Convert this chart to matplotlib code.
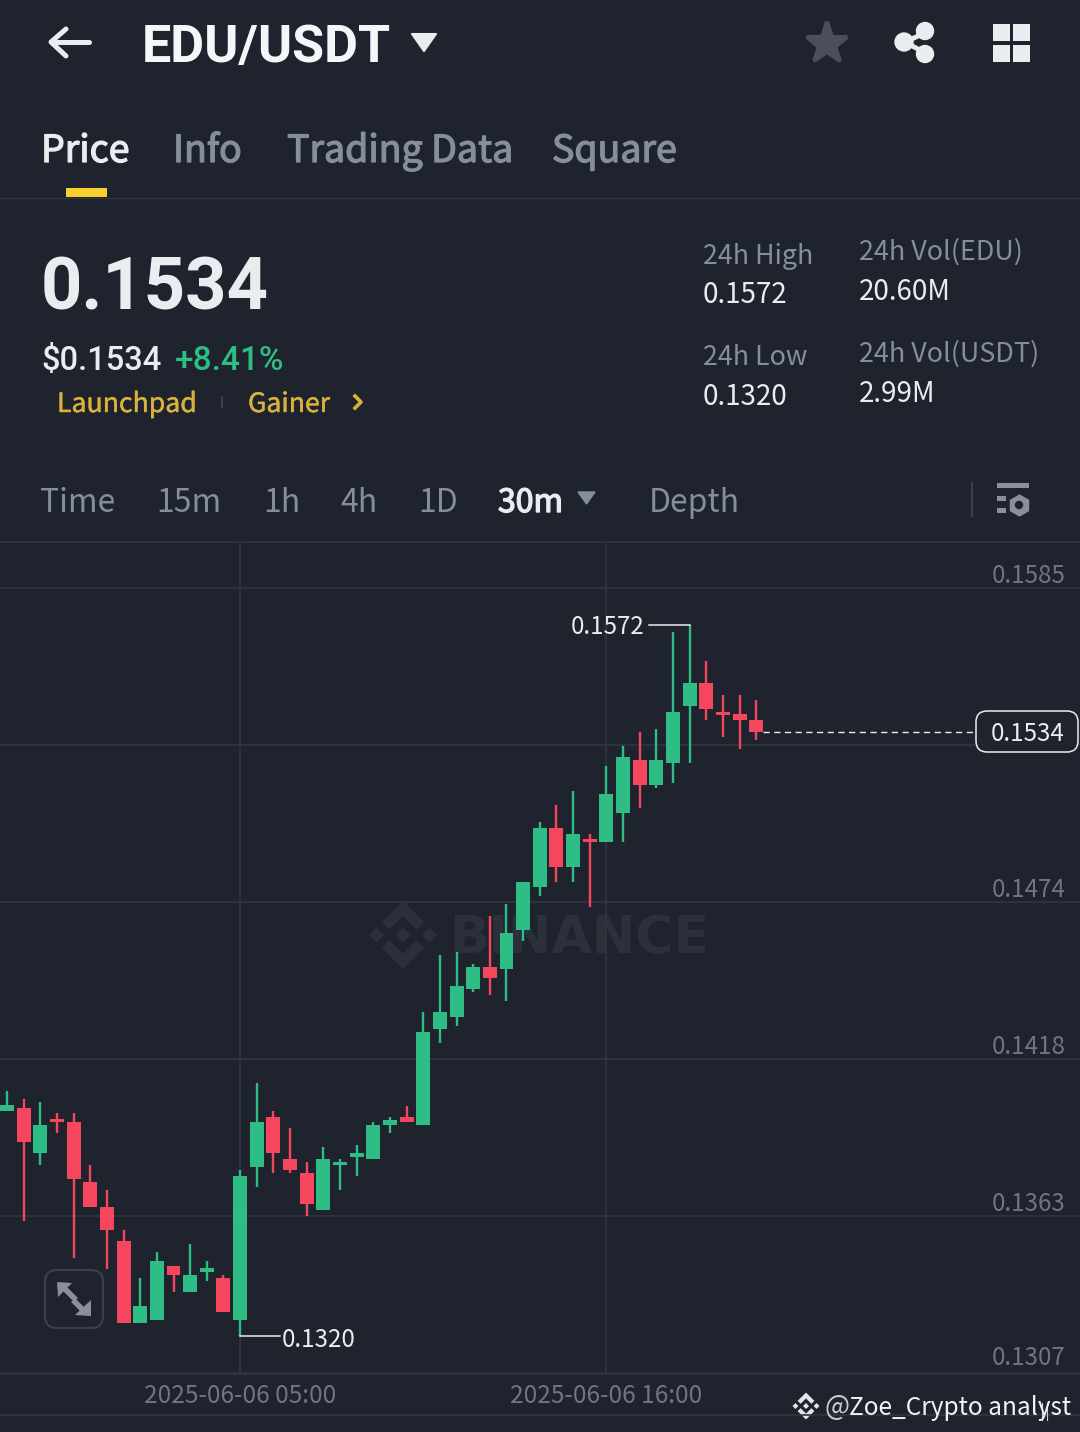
import matplotlib
matplotlib.use("Agg")
import matplotlib.pyplot as plt
import matplotlib.patheffects as pe
from matplotlib.patches import FancyBboxPatch, Polygon, Circle, Rectangle
from matplotlib.transforms import ScaledTranslation
import numpy as np

# ---------- data ----------
highs = [0.14069,0.14040,0.14030,0.13991,0.13991,0.13807,0.13718,0.13576,0.13406,0.13499,0.13449,0.13527,0.13467,0.13417,0.13789,
         0.14097,0.13998,0.13938,0.13817,0.13870,0.13828,0.13877,0.13959,0.13977,0.14016,0.14348,0.14550,0.14561,0.14518,0.14688,
         0.14731,0.14809,0.15021,0.15082,0.15131,0.14979,0.15220,0.15290,0.15340,0.15351,0.15694,0.15720,0.15591,0.15471,0.15471,0.15453]
lows  = [0.13998,0.13608,0.13807,0.13920,0.13477,0.13658,0.13438,0.13247,0.13247,0.13258,0.13357,0.13357,0.13396,0.13286,0.13200,
         0.13729,0.13778,0.13778,0.13626,0.13647,0.13718,0.13768,0.13828,0.13920,0.13959,0.13948,0.14239,0.14299,0.14419,0.14409,
         0.14387,0.14600,0.14759,0.14809,0.14809,0.14720,0.14950,0.14950,0.15071,0.15142,0.15159,0.15230,0.15383,0.15322,0.15280,0.15312]
tops  = [0.14019,0.14008,0.13948,0.13969,0.13959,0.13746,0.13658,0.13537,0.13307,0.13467,0.13449,0.13417,0.13442,0.13406,0.13768,
         0.13959,0.13977,0.13828,0.13778,0.13828,0.13817,0.13849,0.13948,0.13966,0.13977,0.14278,0.14348,0.14441,0.14508,0.14508,
         0.14628,0.14809,0.15000,0.15000,0.14979,0.14961,0.15120,0.15252,0.15241,0.15241,0.15411,0.15514,0.15514,0.15411,0.15404,0.15383]
bottoms=[0.13998,0.13888,0.13849,0.13959,0.13757,0.13658,0.13576,0.13247,0.13247,0.13258,0.13417,0.13357,0.13428,0.13286,0.13258,
         0.13800,0.13849,0.13789,0.13669,0.13647,0.13807,0.13835,0.13828,0.13948,0.13959,0.13948,0.14288,0.14331,0.14430,0.14469,
         0.14501,0.14639,0.14791,0.14862,0.14862,0.14950,0.14950,0.15052,0.15152,0.15152,0.15230,0.15432,0.15421,0.15400,0.15383,0.15340]
is_up = [1,0,1,0,0,0,0,0,1,1,0,1,1,0,1,1,0,0,0,1,1,1,1,1,0,1,1,1,1,0,1,1,1,0,1,0,1,1,0,1,1,1,0,0,0,0]
price_ticks = [0.1585,0.15294,0.14738,0.14182,0.13626,0.1307]
price_labels = ['0.1585','','0.1474','0.1418','0.1363','0.1307']
time_ticks = [14,36]
time_labels = ['2025-06-06 05:00','2025-06-06 16:00']
last_price = 0.1534
high_value, low_value = 0.1572, 0.1320
high_idx, low_idx = 41, 14
tabs = ['Info','Trading Data','Square']
intervals = [('Time',40),('15m',156),('1h',263),('4h',340),('1D',418)]

# ---------- palette ----------
BG='#1E232E'; GRID='#31363F'; GREEN='#2EBD85'; RED='#F6465D'; WHITE='#EAECEF'; GRAY='#848E9C'; DIM='#6F7682'; GOLD='#D9B23C'

W,H=1080,1432
fig=plt.figure(figsize=(W/100,H/100),dpi=100,facecolor=BG)
ui=fig.add_axes([0,0,1,1]); ui.set_xlim(0,W); ui.set_ylim(H,0); ui.axis('off')
ui.set_zorder(1)
BODY='Noto Sans CJK SC'
NUM='Roboto'
def T(x,y,s,size,color=WHITE,ha='left',weight='normal',fam=BODY,fat=0,**k):
    t=ui.text(x,y,s,fontsize=size,color=color,ha=ha,va='baseline',fontweight=weight,family=[fam,'DejaVu Sans'],**k)
    if fat:
        t.set_path_effects([pe.withStroke(linewidth=fat,foreground=color)])
    return t

# header
ui.plot([53,89],[42,42],color=WHITE,lw=3.6,solid_capstyle='round')
ui.plot([66,51,66],[29,42,56],color=WHITE,lw=3.6,solid_capstyle='round',solid_joinstyle='round')
T(142,62,'EDU/USDT',37.5,'#F5F6F8',weight='bold',fam=NUM)
ui.add_patch(Polygon([[412,34],[436,34],[424,51]],fc=WHITE,ec=WHITE,lw=1.5,joinstyle='round'))
ui.plot([826.5],[44],marker='*',ms=31,color='#4A4F5B',mec='#4A4F5B',mew=3,mfc='#4A4F5B')
for a,b in [((905,42),(927,32)),((905,42),(927,54))]:
    ui.plot([a[0],b[0]],[a[1],b[1]],color=WHITE,lw=3.5)
for c,r in [((904,42),9),((925,31),8.5),((925,54),8.5)]:
    ui.add_patch(Circle(c,r,color=WHITE))
for x0,y0 in [(993,24),(1013,24),(993,45),(1013,45)]:
    ui.add_patch(Rectangle((x0,y0),17,17,color=WHITE,lw=0))

# tabs
T(41,162,'Price',27,WHITE,fat=0.9)
for (s,x) in zip(tabs,[173,287,552]):
    T(x,162,s,27,GRAY,fat=0.9)
ui.add_patch(Rectangle((66,188),41,9,color='#F8D12F',lw=0))
ui.plot([0,W],[197.5,197.5],color=GRID,lw=1)

# price block
T(41,310,'0.1534',52,WHITE,weight='bold',fam=NUM)
T(41,370,'$0.1534',23.5,WHITE,weight='medium',fam=NUM)
T(175,370,'+8.41%',24,GREEN,weight='medium',fam=NUM)
T(57,412,'Launchpad',19.2,GOLD,fat=0.3)
T(248,412,'Gainer',19.2,GOLD,fat=0.3)
ui.plot([222,222],[397,407],color='#3A3F49',lw=1.5)
ui.plot([355,361,355],[396,402,408],color=GOLD,lw=2.6)
T(703,264,'24h High',19.3,GRAY); T(703,303,'0.1572',20,WHITE)
T(703,365,'24h Low',19.3,GRAY); T(703,405,'0.1320',20,WHITE)
T(859,260,'24h Vol(EDU)',19.4,GRAY); T(859,300,'20.60M',20,WHITE)
T(859,362,'24h Vol(USDT)',19.4,GRAY); T(859,402,'2.99M',20,WHITE)

# interval bar
for s,x in intervals:
    T(x,512,s,23,GRAY)
T(498,512,'30m',23,WHITE,fat=1.0)
ui.add_patch(Polygon([[578,492],[595,492],[586.5,504]],color=GRAY))
T(649,512,'Depth',23,GRAY)
ui.plot([972,972],[483,516],color='#3A3F49',lw=1.5)
IC='#8A8F99'
ui.add_patch(Rectangle((997,483),32,5,color=IC,lw=0))
ui.add_patch(Rectangle((997,496),9,5,color=IC,lw=0))
ui.add_patch(Rectangle((997,508),9,5,color=IC,lw=0))
ui.plot([1019],[505],marker='h',ms=15,color=IC,mec=IC)
ui.add_patch(Circle((1019,505),3.5,color=BG,zorder=3))
for y in (541.5,1373.5,1414.5):
    ui.plot([0,W],[y,y],color=GRID,lw=1.2)

# watermark (under the chart axes)
def logo(a,cx,cy,s,color):
    d=lambda x,y,r:[[cx+x*s-r*s,cy+y*s],[cx+x*s,cy+y*s-r*s],[cx+x*s+r*s,cy+y*s],[cx+x*s,cy+y*s+r*s]]
    a.add_patch(Polygon(d(0,0,.22),color=color,lw=0))
    a.add_patch(Polygon(d(-.78,0,.22),color=color,lw=0))
    a.add_patch(Polygon(d(.78,0,.22),color=color,lw=0))
    for sg in (-1,1):
        pts=[[-.62,sg*.38],[0,sg*1.0],[.62,sg*.38],[.40,sg*.16],[0,sg*.56],[-.40,sg*.16]]
        a.add_patch(Polygon([[cx+p[0]*s,cy+p[1]*s] for p in pts],color=color,lw=0))
logo(ui,403,935,34,'#2B303B')
T(449,953,'BINANCE',37.5,'#2B303B',weight='bold',fam='DejaVu Sans')

# ---------- chart ----------
PX=(0.1585-0.1307)/785.0
y_top=0.1585+(588-543)*PX
STEP=16.65
ax=fig.add_axes([0,(H-1373)/H,1,(1373-543)/H],facecolor='none')
ax.set_zorder(2)
ax.set_xlim(-7/STEP,(W-7)/STEP); ax.set_ylim(0.1307,y_top)
for s in ax.spines.values(): s.set_visible(False)
ax.set_yticks(price_ticks); ax.set_yticklabels(price_labels)
ax.yaxis.tick_right()
ax.tick_params(axis='y',length=0,pad=-10.5,labelsize=17.4,labelcolor=DIM)
for l in ax.get_yticklabels():
    l.set_ha('right'); l.set_va('bottom'); l.set_family([BODY,'DejaVu Sans'])
ax.set_xticks(time_ticks); ax.set_xticklabels(time_labels)
ax.tick_params(axis='x',length=0,pad=7.5,labelsize=17.6,labelcolor=DIM)
for l in ax.get_xticklabels():
    l.set_family([BODY,'DejaVu Sans'])
ax.grid(True,color=GRID,lw=1.2); ax.set_axisbelow(True)

idx=np.arange(len(highs))
cols=[GREEN if u else RED for u in is_up]
ax.vlines(idx,lows,highs,colors=cols,lw=1.7,zorder=3)
ax.bar(idx,np.array(tops)-np.array(bottoms),bottom=bottoms,width=0.84,color=cols,lw=0,zorder=4)

# high/low callouts
ax.plot([high_idx-2.45,high_idx],[high_value,high_value],color=WHITE,lw=1.1,zorder=5)
ax.annotate('0.1572',(high_idx-2.6,high_value),xytext=(-1,-1.5),textcoords='offset points',ha='right',va='center',color=WHITE,fontsize=17.4,family=[BODY,'DejaVu Sans'],zorder=6)
ax.plot([low_idx,low_idx+2.4],[low_value,low_value],color=WHITE,lw=1.1,zorder=5)
ax.annotate('0.1320',(low_idx+2.5,low_value),xytext=(0,-3),textcoords='offset points',ha='left',va='center',color=WHITE,fontsize=17.4,family=[BODY,'DejaVu Sans'],zorder=6)

# last price
ax.plot([45.4,58.2],[last_price,last_price],color=WHITE,lw=1,dashes=(4.5,3.2),zorder=5)
ax.add_patch(FancyBboxPatch((976,711),102,41,boxstyle='round,pad=0,rounding_size=11',fc=BG,ec=WHITE,lw=1.1,transform=ui.transData,zorder=6,clip_on=False))
ax.text(1027.5,741,'0.1534',fontsize=17.4,color=WHITE,ha='center',va='baseline',family=[BODY,'DejaVu Sans'],transform=ui.transData,zorder=7)

# expand button
ui.add_patch(FancyBboxPatch((45,1270),58,58,boxstyle='round,pad=0,rounding_size=12',fc='none',ec='#3A404B',lw=1.6))
ui.plot([64,74],[1288,1298],color=IC,lw=4); ui.plot([75,85],[1302,1312],color=IC,lw=4)
ui.add_patch(Polygon([[57,1282],[72,1283],[58,1297]],color=IC,lw=0))
ui.add_patch(Polygon([[91,1316],[75,1315],[91,1300]],color=IC,lw=0))

# footer attribution
logo(ui,806,1406,13.5,'#E4E5E8')
T(825,1415,'@',19,'#C9CBD0')
T(849,1415,'Zoe_Crypto analyst',17.6,'#F2F3F5')
ui.plot([1042,1042],[1403,1420],color='#D0D0D0',lw=.8); ui.plot([1047,1047],[1403,1420],color='#D0D0D0',lw=.8)

fig.canvas.draw()
ticks=ax.yaxis.get_major_ticks()
for i,t in enumerate(ticks):
    dy=2 if i==len(ticks)-1 else -1
    t.label2.set_transform(t.label2.get_transform()+ScaledTranslation(0,dy/100,fig.dpi_scale_trans))

fig.savefig('out.png',dpi=100,facecolor=BG)
